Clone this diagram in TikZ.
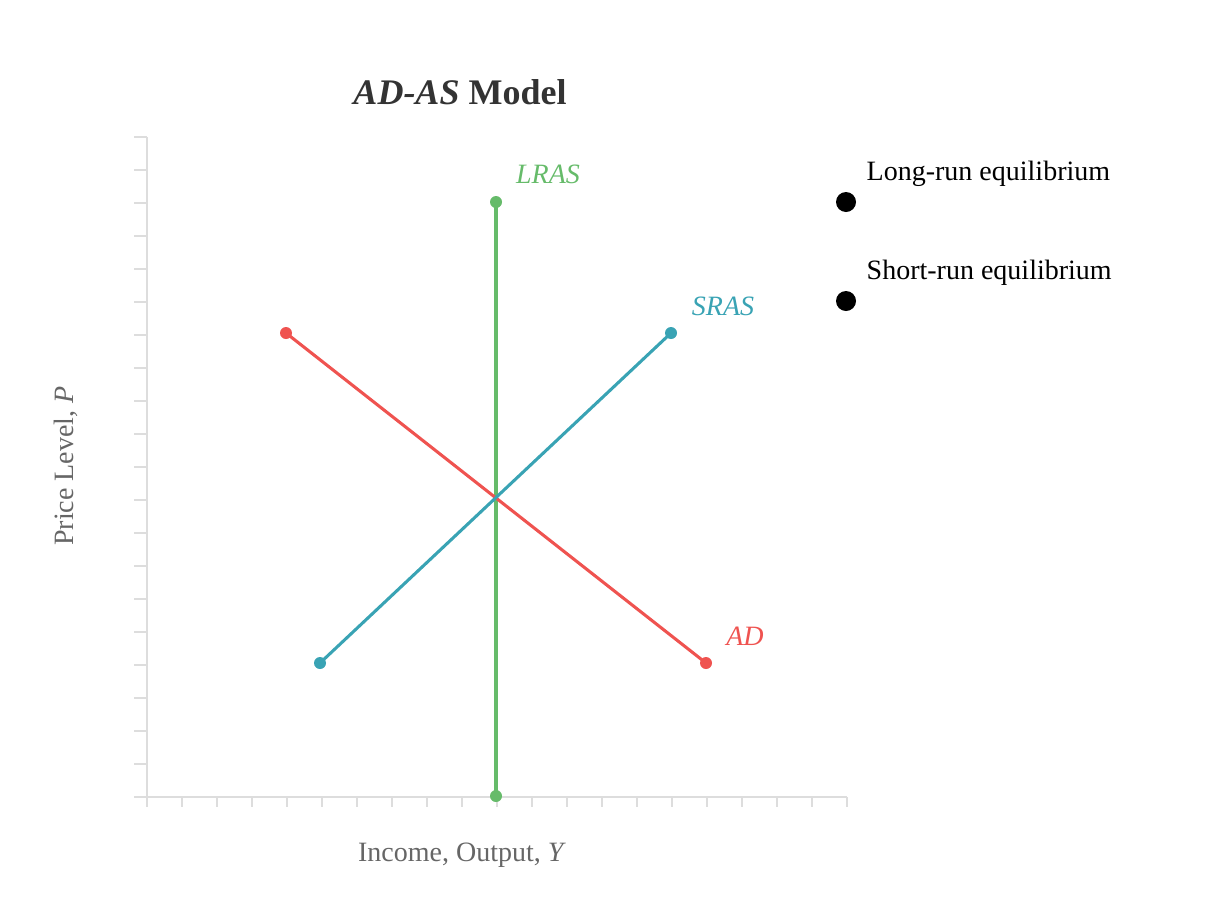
\documentclass[tikz,border=0pt]{standalone}
\usepackage{fontspec}
\setmainfont{Liberation Serif}
\usetikzlibrary{positioning}
\definecolor{lrasgreen}{RGB}{102,187,106}
\definecolor{adred}{RGB}{239,83,80}
\definecolor{srasteal}{RGB}{57,163,180}
\definecolor{axisgray}{RGB}{221,221,221}
\definecolor{labelgray}{RGB}{102,102,102}
\definecolor{titlegray}{RGB}{51,51,51}

\begin{document}
\begin{tikzpicture}[x=0.75pt, y=-0.75pt,
    every node/.style={font=\fontsize{21}{25}\selectfont},
    enddot/.style={circle, fill=#1, inner sep=0pt, minimum size=9pt},
    eqdot/.style={circle, fill=black, inner sep=0pt, minimum size=15pt},
    curve/.style={line width=2.3pt, #1}]
  \useasboundingbox (0,0) rectangle (1224,922);
  % axes and ticks
  \draw[axisgray, line width=1.5pt] (147,137) -- (147,797) -- (847,797);
  \foreach \i in {0,...,20} {
    \draw[axisgray, line width=1.5pt] (147+35*\i,797) -- ++(0,10);
    \draw[axisgray, line width=1.5pt] (147,797-33*\i) -- ++(-13,0);
  }
  \node[font=\fontsize{27}{31}\selectfont\bfseries, text=titlegray] (title) at (460,92) {\textit{AD-AS} Model};
  \node[text=labelgray] (xlab) at (462,855) {Income, Output, \textit{Y}};
  \node[text=labelgray, rotate=90] (ylab) at (66,466) {Price Level, \textit{P}};
  % curve end points
  \node[enddot=lrasgreen] (lrasT) at (496,202) {};
  \node[enddot=lrasgreen] (lrasB) at (496,796) {};
  \node[enddot=adred] (adT) at (286,333) {};
  \node[enddot=adred] (adB) at (706,663) {};
  \node[enddot=srasteal] (srasB) at (320,663) {};
  \node[enddot=srasteal] (srasT) at (671,333) {};
  \draw[curve=lrasgreen] (lrasT.center) -- (lrasB.center);
  \draw[curve=adred] (adT.center) -- (adB.center);
  \draw[curve=srasteal] (srasB.center) -- (srasT.center);
  \node[text=lrasgreen] (lraslab) at (548,174) {\textit{LRAS}};
  \node[text=srasteal] (sraslab) at (723,306) {\textit{SRAS}};
  \node[text=adred] (adlab) at (745,636) {\textit{AD}};
  % legend
  \node[eqdot] (lrdot) at (846,202) {};
  \node[eqdot] (srdot) at (846,301) {};
  \node[anchor=west] (lrtext) at (862,174) {Long-run equilibrium};
  \node[anchor=west] (srtext) at (862,273) {Short-run equilibrium};
\end{tikzpicture}
\end{document}
